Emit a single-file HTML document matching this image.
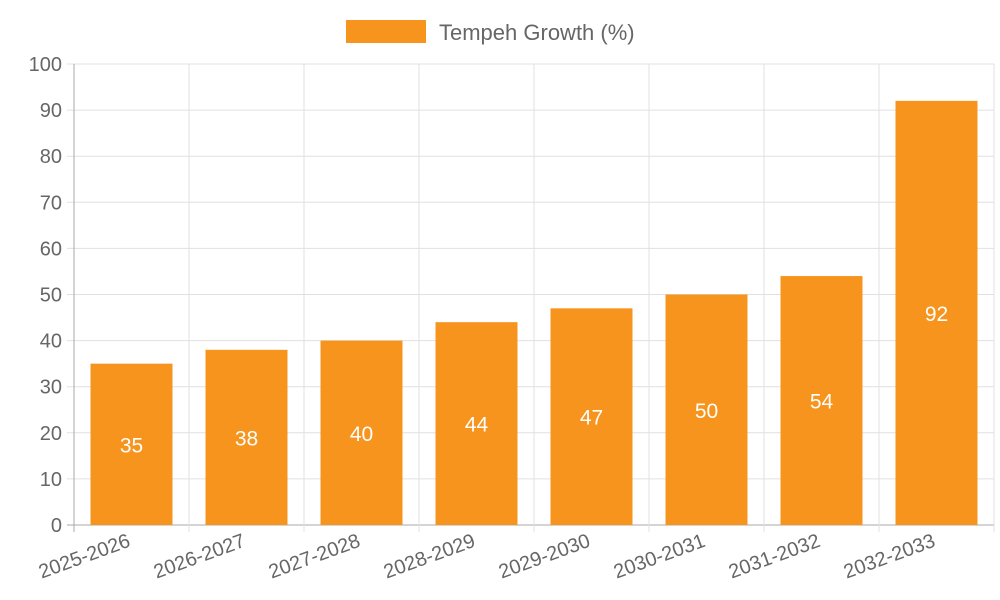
<!DOCTYPE html>
<html><head><meta charset="utf-8"><style>
html,body{margin:0;padding:0;background:#fff;}
svg{display:block;font-family:"Liberation Sans",sans-serif;}
</style></head><body>
<svg id="chart" width="1000" height="600" viewBox="0 0 1000 600" xmlns="http://www.w3.org/2000/svg">
<g>
<rect x="346" y="20" width="80" height="23" fill="#F7941E"/>
<text x="439" y="40" font-size="22" fill="#666">Tempeh Growth (%)</text>
</g>
<g id="grid"></g><g id="bars"></g><g id="labels"></g>
</svg>
<script>
const categories = ["2025-2026","2026-2027","2027-2028","2028-2029","2029-2030","2030-2031","2031-2032","2032-2033"];
const values = [35,38,40,44,47,50,54,92];
const yTicks = [0,10,20,30,40,50,60,70,80,90,100];

const NS="http://www.w3.org/2000/svg";
const L=74,R=994,T=64,B=525,yMax=100;
const band=(R-L)/categories.length;
const xs=i=>L+band*i;
const ys=v=>B-(B-T)*v/yMax;
function mk(tag,attrs,parent){const e=document.createElementNS(NS,tag);for(const k in attrs)e.setAttribute(k,attrs[k]);parent.appendChild(e);return e;}
const grid=document.getElementById('grid'),bars=document.getElementById('bars'),labels=document.getElementById('labels');

yTicks.forEach(t=>{
  const y=ys(t);
  const ln=mk('line',{x1:67,x2:R,y1:y,y2:y,stroke:t===0?'#aaa':'#e0e0e0','stroke-width':1},grid);
  
  
  const tx=mk('text',{x:62,y:y+7,'text-anchor':'end','font-size':20,fill:'#666'},labels);
  tx.textContent=t;
  
  
});
for(let i=0;i<=categories.length;i++){
  const x=xs(i);
  const ln=mk('line',{x1:x,x2:x,y1:T,y2:532,stroke:i===0?'#aaa':'#e0e0e0','stroke-width':1},grid);
  
  
}
categories.forEach((c,i)=>{
  const cx=xs(i)+band/2, w=82, v=values[i];
  const r=mk('rect',{x:cx-w/2,y:ys(v),width:w,height:B-ys(v),fill:'#F7941E'},bars);
  
  
  const vt=mk('text',{x:cx,y:(ys(v)+B)/2+8,'text-anchor':'middle','font-size':21,fill:'#fff'},labels);
  vt.textContent=v;
  
  
  const xt=mk('text',{x:cx,y:546,'text-anchor':'end','font-size':20,fill:'#666',transform:`rotate(-20 ${cx} 546)`},labels);
  xt.textContent=c;
  
  
});
</script>
</body></html>
